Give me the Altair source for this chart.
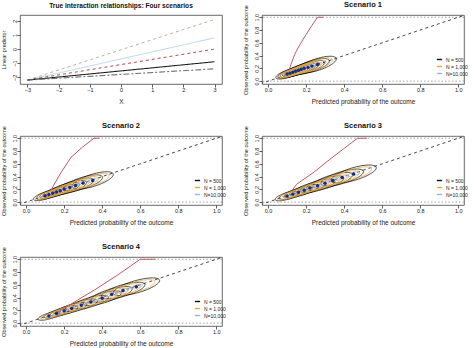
import numpy as np
import pandas as pd
import altair as alt

FONT = "Liberation Sans"
W, H = 202, 69

# ---------------- Panel 1: true interaction relationships ----------------
lp_names = ["A", "B", "C", "D", "E"]
lp_x = [-3, 3]
lp_y_start = [-2.2, -2.2, -2.2, -2.2, -2.2]
lp_y_end = [2.1, 0.8, 0.0, -0.9, -1.4]
lp_colors = ["#b5a98f", "#b3d3e8", "#b8474c", "#1a1a1a", "#707070"]
lp_dash = [[3, 3], [1, 0], [3, 3], [1, 0], [6, 2, 2, 2]]
lp_width = [0.9, 1.1, 0.9, 1.2, 0.9]

# ---------------- Calibration scenarios ----------------
scen_titles = ["Scenario 1", "Scenario 2", "Scenario 3", "Scenario 4"]

dec_x = [
    [0.10, 0.115, 0.13, 0.145, 0.16, 0.175, 0.19, 0.21, 0.23, 0.26],
    [0.10, 0.12, 0.14, 0.16, 0.18, 0.20, 0.23, 0.26, 0.30, 0.35],
    [0.10, 0.13, 0.16, 0.19, 0.22, 0.26, 0.30, 0.34, 0.39, 0.45],
    [0.12, 0.16, 0.20, 0.24, 0.29, 0.34, 0.40, 0.45, 0.51, 0.58],
]
dec_y = [
    [0.11, 0.125, 0.14, 0.155, 0.17, 0.185, 0.20, 0.215, 0.235, 0.26],
    [0.10, 0.12, 0.14, 0.16, 0.18, 0.205, 0.23, 0.26, 0.30, 0.34],
    [0.095, 0.125, 0.155, 0.185, 0.22, 0.255, 0.295, 0.34, 0.385, 0.44],
    [0.11, 0.15, 0.19, 0.23, 0.28, 0.33, 0.39, 0.45, 0.51, 0.57],
]
# semi-major axis of the N=500 confidence ellipse for each decile
ell_major = [
    [0.09, 0.095, 0.10, 0.105, 0.11, 0.115, 0.12, 0.13, 0.14, 0.15],
    [0.09, 0.095, 0.10, 0.105, 0.11, 0.12, 0.13, 0.14, 0.15, 0.16],
    [0.09, 0.10, 0.105, 0.11, 0.12, 0.13, 0.14, 0.15, 0.16, 0.17],
    [0.08, 0.09, 0.10, 0.11, 0.12, 0.13, 0.14, 0.15, 0.16, 0.17],
]
ell_angle_deg = [56, 54, 52, 50]
ell_minor_ratio = 0.42

n_levels = ["N = 500", "N = 1,000", "N=10,000"]
n_colors = ["#111111", "#e9a83a", "#9fb4d2"]
n_scale = [1.0, 0.8, 0.27]

red_x = [
    [0.11, 0.12, 0.14, 0.167, 0.20, 0.23, 0.26, 0.29],
    [0.13, 0.148, 0.183, 0.236, 0.296, 0.357, 0.385],
    [0.13, 0.15, 0.237, 0.325, 0.395, 0.47, 0.52],
    [0.15, 0.20, 0.27, 0.36, 0.48, 0.60, 0.68],
]
red_y = [
    [0.17, 0.26, 0.42, 0.57, 0.73, 0.87, 1.0, 1.0],
    [0.18, 0.28, 0.46, 0.70, 0.86, 1.0, 1.0],
    [0.20, 0.28, 0.46, 0.67, 0.83, 1.0, 1.0],
    [0.15, 0.23, 0.36, 0.52, 0.75, 1.0, 1.0],
]

prob_ticks = [0.0, 0.2, 0.4, 0.6, 0.8, 1.0]
ref_h = [0.0, 1.0]
diag = [-0.1, 1.1]

AX = dict(labelFontSize=5.5, tickSize=3, tickColor="#333",
          tickWidth=0.8, domain=False, grid=False, labelPadding=0,
          labelColor="#222", titleColor="#222", titleFontWeight="normal",
          labelFlush=False, labelOverlap=False, labelFont=FONT, titleFont=FONT)


def xenc(title, domain, values, fmt):
    return alt.X("x:Q", title=title,
                 scale=alt.Scale(domain=domain, nice=False, zero=False),
                 axis=alt.Axis(values=values, format=fmt, titlePadding=6,
                               titleFontSize=6.5, **AX))


def yenc(title, domain, values, fmt):
    return alt.Y("y:Q", title=title,
                 scale=alt.Scale(domain=domain, nice=False, zero=False),
                 axis=alt.Axis(values=values, format=fmt, labelAngle=270,
                               labelAlign="center", labelBaseline="bottom",
                               titlePadding=6, titleFontSize=5.6, **AX))


def title(text, size, offset):
    return alt.TitleParams(text, fontSize=size, fontWeight="bold", font=FONT,
                           offset=offset, anchor="middle", color="#111")


# ---- panel 1
rows = []
for i, n in enumerate(lp_names):
    rows.append({"s": n, "x": lp_x[0], "y": lp_y_start[i]})
    rows.append({"s": n, "x": lp_x[1], "y": lp_y_end[i]})
lp_df = pd.DataFrame(rows)
X1 = xenc("X", [-3.24, 3.24], [-3, -2, -1, 0, 1, 2, 3], "d")
Y1 = yenc("Linear predictor", [-2.48, 2.42], [-2, -1, 0, 1, 2], "d")
p1 = alt.Chart(lp_df).mark_line().encode(
    x=X1, y=Y1,
    color=alt.Color("s:N", scale=alt.Scale(domain=lp_names, range=lp_colors), legend=None),
    strokeDash=alt.StrokeDash("s:N", scale=alt.Scale(domain=lp_names, range=lp_dash), legend=None),
    strokeWidth=alt.StrokeWidth("s:N", scale=alt.Scale(domain=lp_names, range=lp_width), legend=None),
).properties(width=W, height=H,
             title=title("True interaction relationships: Four scenarios", 6.6, 5.5))


# ---- calibration panels
XD = [-0.032, 1.03]
YD = [-0.045, 1.035]


def calib_panel(k):
    Xc = xenc("Predicted probability of the outcome", XD, prob_ticks, ".1f")
    Yc = yenc("Observed probability of the outcome", YD, prob_ticks, ".1f")

    href = alt.Chart(pd.DataFrame({"y": ref_h})).mark_rule(
        color="#9a9a9a", strokeDash=[1.5, 2], strokeWidth=0.9
    ).encode(y=Yc)

    dg = alt.Chart(pd.DataFrame({"x": diag, "y": diag})).mark_line(
        color="#333", strokeDash=[3, 3], strokeWidth=0.9, clip=True
    ).encode(x=Xc, y=Yc)

    th = np.deg2rad(ell_angle_deg[k])
    t = np.linspace(0, 2 * np.pi, 73)
    erows = []
    for j, lvl in enumerate(n_levels):
        for i in range(len(dec_x[k])):
            a = ell_major[k][i] * n_scale[j]
            b = a * ell_minor_ratio
            ex = dec_x[k][i] + a * np.cos(t) * np.cos(th) - b * np.sin(t) * np.sin(th)
            ey = dec_y[k][i] + a * np.cos(t) * np.sin(th) + b * np.sin(t) * np.cos(th)
            for m in range(len(t)):
                erows.append({"N": lvl, "g": f"{j}-{i}", "o": j * 1000 + m,
                              "x": ex[m], "y": ey[m]})
    edf = pd.DataFrame(erows)
    ell = alt.Chart(edf).mark_line(strokeWidth=0.75, clip=True).encode(
        x=Xc, y=Yc,
        detail="g:N",
        order="o:Q",
        color=alt.Color("N:N", scale=alt.Scale(domain=n_levels, range=n_colors),
                        legend=alt.Legend(orient="none", legendX=174, legendY=41,
                                          title=None, symbolType="stroke",
                                          symbolSize=28, symbolStrokeWidth=1.4,
                                          labelFontSize=5.0, labelFont=FONT,
                                          labelColor="#222", rowPadding=0,
                                          labelOffset=3, padding=0)),
    )

    red = alt.Chart(pd.DataFrame({"x": red_x[k], "y": red_y[k]})).mark_line(
        color="#c05a5f", strokeWidth=1.0, clip=True
    ).encode(x=Xc, y=Yc)

    pts = alt.Chart(pd.DataFrame({"x": dec_x[k], "y": dec_y[k]})).mark_circle(
        color="#1d2b7c", size=12, opacity=1
    ).encode(x=Xc, y=Yc)

    return alt.layer(href, dg, ell, red, pts).properties(
        width=W, height=H, title=title(scen_titles[k], 7.5, -3.5))


panels = [p1] + [calib_panel(k) for k in range(4)]

chart = alt.concat(*panels, columns=2, spacing={"row": 52, "column": 40},
                   bounds="flush").resolve_scale(
    color="independent", strokeDash="independent", strokeWidth="independent"
).properties(
    padding={"left": 0, "top": 0, "right": 0, "bottom": 0},
    background="white",
).configure_view(stroke="#444", strokeWidth=0.8)

chart.save("out.html", embed_options={"renderer": "svg", "actions": False})
